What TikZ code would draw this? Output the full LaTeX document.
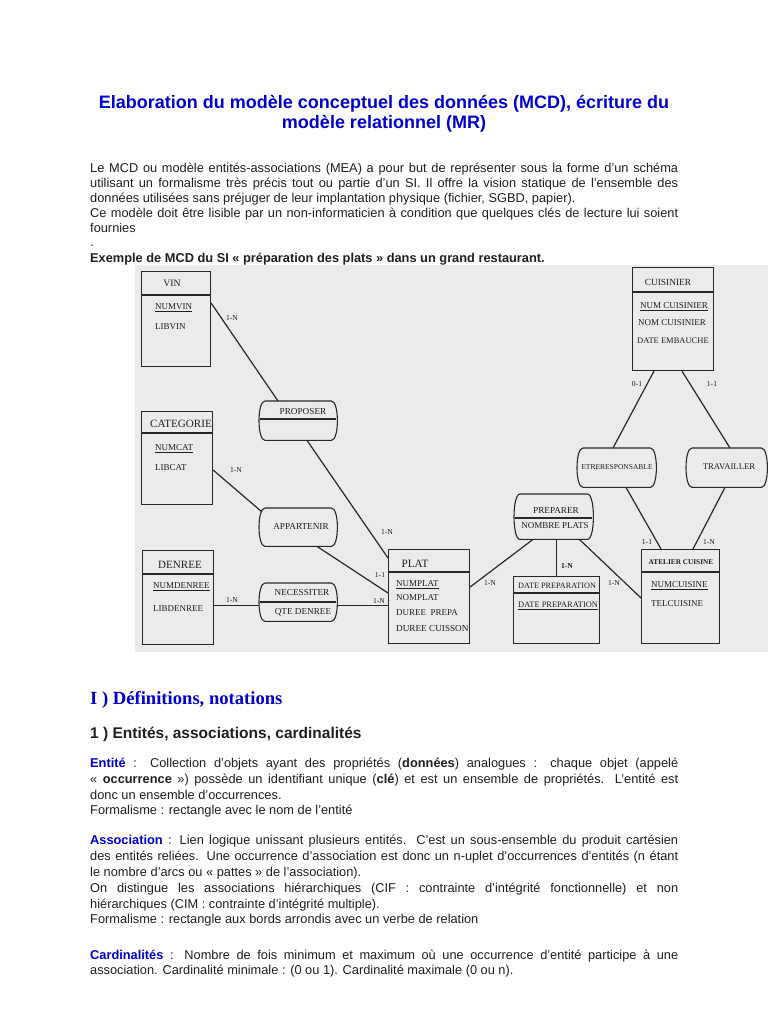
\documentclass[tikz,border=0pt]{standalone}
\usepackage{fontspec}
\setmainfont{Liberation Sans}
\newfontfamily\serifd{Liberation Serif}
\usetikzlibrary{calc}
\definecolor{titleblue}{RGB}{0,0,204}
\definecolor{ink}{RGB}{40,40,40}
\definecolor{inktext}{RGB}{30,30,30}
\definecolor{scan}{RGB}{235,235,235}
\newcommand\jl[1]{\makebox[588pt][s]{#1}}
\newcommand\assocshape[1]{%
 \draw[entline] ([xshift=6pt]#1.north west) -- ([xshift=-6pt]#1.north east)
   .. controls ([xshift=2pt]#1.north east) and ([xshift=2pt]#1.south east) .. ([xshift=-6pt]#1.south east)
   -- ([xshift=6pt]#1.south west)
   .. controls ([xshift=-2pt]#1.south west) and ([xshift=-2pt]#1.north west) .. cycle;}
\begin{document}
\begin{tikzpicture}[x=1pt,y=-1pt,
  body/.style={anchor=base west, inner sep=0pt, font=\fontsize{12.8}{15}\selectfont, text=black!88},
  ttl/.style={anchor=base, inner sep=0pt, font=\fontsize{18}{20}\selectfont\bfseries, text=titleblue},
  entline/.style={draw=ink, line width=1.1pt},
  link/.style={draw=ink, line width=1.2pt},
  ent/.style={entline, anchor=north west, inner sep=0pt},
  assoc/.style={anchor=north west, inner sep=0pt, draw=none},
  ename/.style={inner sep=0pt, text=inktext, font=\serifd\fontsize{11.1}{12}\selectfont},
  attr/.style={inner sep=0pt, anchor=west, text=inktext, font=\serifd\fontsize{9}{10}\selectfont},
  aname/.style={inner sep=0pt, text=inktext, font=\serifd\fontsize{9.2}{10}\selectfont},
  small/.style={inner sep=0pt, text=inktext, font=\serifd\fontsize{8.2}{9}\selectfont},
  lab/.style={inner sep=0pt, text=inktext, font=\serifd\fontsize{7.6}{8}\selectfont}
]
\useasboundingbox (0,0) rectangle (768,1024);
\fill[white] (0,0) rectangle (768,1024);

% ---------- title and introduction ----------
\node[ttl] (t1) at (384,109) {Elaboration du modèle conceptuel des données (MCD), écriture du};
\node[ttl] (t2) at (384,129) {modèle relationnel (MR)};

\node[body] (p1) at (90,173) {\jl{Le MCD ou modèle entités-associations (MEA) a pour but de représenter sous la forme d’un schéma}};
\node[body] (p2) at (90,188) {\jl{utilisant un formalisme très précis tout ou partie d’un SI. Il offre la vision statique de l’ensemble des}};
\node[body] (p3) at (90,203) {données utilisées sans préjuger de leur implantation physique (fichier, SGBD, papier).};
\node[body] (p4) at (90,218) {\jl{Ce modèle doit être lisible par un non-informaticien à condition que quelques clés de lecture lui soient}};
\node[body] (p5) at (90,233) {fournies};
\node[body] (p6) at (90,247) {.};
\node[body] (p7) at (90,262) {\bfseries Exemple de MCD du SI « préparation des plats » dans un grand restaurant.};

% ---------- scanned diagram ----------
\fill[scan] (135,265) rectangle (768,652);

% entities
\node[ent, minimum width=69pt, minimum height=95pt] (vin) at (141,271) {};
\draw[ink, line width=1.7pt] ([yshift=-24pt]vin.north west) -- ([yshift=-24pt]vin.north east);
\node[ename, font=\serifd\fontsize{9.8}{10}\selectfont] (vinn) at (172,283) {VIN};
\node[attr] (vina) at (155,308) {\underline{NUMVIN}};
\node[attr] (vinb) at (155,327) {LIBVIN};

\node[ent, minimum width=71pt, minimum height=93pt] (cat) at (141,411) {};
\draw[entline] ([yshift=-22pt]cat.north west) -- ([yshift=-22pt]cat.north east);
\node[ename] (catn) at (181,424) {CATEGORIE};
\node[attr] (cata) at (155,449) {\underline{NUMCAT}};
\node[attr] (catb) at (155,468) {LIBCAT};

\node[ent, minimum width=71pt, minimum height=94pt] (den) at (142,550) {};
\draw[entline] ([yshift=-24pt]den.north west) -- ([yshift=-24pt]den.north east);
\node[ename] (denn) at (180,565) {DENREE};
\node[attr] (dena) at (153,587) {\underline{NUMDENREE}};
\node[attr] (denb) at (153,609) {LIBDENREE};

\node[ent, minimum width=81pt, minimum height=94pt] (plat) at (388,549) {};
\draw[entline] ([yshift=-23pt]plat.north west) -- ([yshift=-23pt]plat.north east);
\node[ename, font=\serifd\fontsize{11.2}{12}\selectfont] (platn) at (415,564) {PLAT};
\node[attr] (plata) at (396,585) {\underline{NUMPLAT}};
\node[attr] (platb) at (396,598) {NOMPLAT};
\node[attr] (platc) at (396,613) {DUREE\ \ PREPA};
\node[attr, font=\serifd\fontsize{9.2}{10}\selectfont] (platd) at (396,628) {DUREE CUISSON};

\node[ent, minimum width=86pt, minimum height=67pt] (datep) at (513,576) {};
\draw[entline] ([yshift=-17pt]datep.north west) -- ([yshift=-17pt]datep.north east);
\node[small] (datepn) at (557,586) {DATE PREPARATION};
\node[attr, font=\serifd\fontsize{8.4}{9}\selectfont] (datepa) at (518,606) {\underline{DATE PREPARATION}};

\node[ent, minimum width=78pt, minimum height=94pt] (atel) at (641,549) {};
\draw[entline] ([yshift=-23pt]atel.north west) -- ([yshift=-23pt]atel.north east);
\node[small, font=\serifd\bfseries\fontsize{7.3}{8}\selectfont] (ateln) at (681,562) {ATELIER CUISINE};
\node[attr] (atela) at (651,586) {\underline{NUMCUISINE}};
\node[attr] (atelb) at (651,604) {TELCUISINE};

\node[ent, minimum width=81pt, minimum height=103pt] (cuis) at (632,267) {};
\draw[entline] ([yshift=-25pt]cuis.north west) -- ([yshift=-25pt]cuis.north east);
\node[ename, font=\serifd\fontsize{9.4}{10}\selectfont] (cuisn) at (668,282) {CUISINIER};
\node[attr] (cuisa) at (640,307) {\underline{NUM CUISINIER}};
\node[attr] (cuisb) at (638,323) {NOM CUISINIER};
\node[attr, font=\serifd\fontsize{8.5}{9}\selectfont] (cuisc) at (637,341) {DATE EMBAUCHE};

% associations
\node[assoc, minimum width=78pt, minimum height=39pt] (prop) at (259,401) {};
\assocshape{prop}
\draw[entline] ([yshift=-18pt,xshift=1pt]prop.north west) -- ([yshift=-18pt,xshift=-1pt]prop.north east);
\node[aname] (propn) at (303,411) {PROPOSER};

\node[assoc, minimum width=78pt, minimum height=38pt] (app) at (259,508) {};
\assocshape{app}
\node[aname] (appn) at (301,526) {APPARTENIR};

\node[assoc, minimum width=78pt, minimum height=38pt] (nec) at (259,583) {};
\assocshape{nec}
\draw[entline] ([yshift=-19pt,xshift=1pt]nec.north west) -- ([yshift=-19pt,xshift=-1pt]nec.north east);
\node[aname] (necn) at (302,592) {NECESSITER};
\node[aname] (neca) at (303,612) {QTE DENREE};

\node[assoc, minimum width=79pt, minimum height=45pt] (prep) at (514,494) {};
\assocshape{prep}
\draw[entline] ([yshift=-24pt,xshift=1pt]prep.north west) -- ([yshift=-24pt,xshift=-1pt]prep.north east);
\node[aname] (prepn) at (556,510) {PREPARER};
\node[aname, font=\serifd\fontsize{9}{10}\selectfont] (prepa) at (555,526) {NOMBRE PLATS};

\node[assoc, minimum width=79pt, minimum height=39pt] (etre) at (577,448) {};
\assocshape{etre}
\node[small, font=\serifd\fontsize{7.5}{8}\selectfont] (etren) at (617,467) {ETRERESPONSABLE};

\node[assoc, minimum width=81pt, minimum height=39pt] (trav) at (686,448) {};
\assocshape{trav}
\node[aname, font=\serifd\fontsize{8.7}{9}\selectfont] (travn) at (729,467) {TRAVAILLER};

% links
\draw[link] ([yshift=-32pt]vin.north east) -- ([xshift=19pt]prop.north west);
\draw[link] ([xshift=48pt]prop.south west) -- ([yshift=-9pt]plat.north west);
\draw[link] ([yshift=-59pt]cat.north east) -- ([xshift=3pt,yshift=-4pt]app.north west);
\draw[link] ([xshift=58pt]app.south west) -- ([yshift=-44pt]plat.north west);
\draw[link] ([yshift=-3pt]nec.west) -- ([yshift=-3pt]nec.west -| den.east);
\draw[link] ([yshift=-3pt]nec.east) -- ([yshift=-3pt]nec.east -| plat.west);
\draw[link] ([xshift=19pt]prep.south west) -- ([yshift=-38pt]plat.north east);
\draw[link] (datep.north |- prep.south) -- (datep.north);
\draw[link] ([xshift=-14pt]prep.south east) -- ([yshift=-49pt]atel.north west);
\draw[link] ([xshift=22pt]cuis.south west) -- ([xshift=36pt]etre.north west);
\draw[link] ([xshift=49pt]etre.south west) -- ([xshift=20pt]atel.north west);
\draw[link] ([xshift=50pt]cuis.south west) -- ([xshift=44pt]trav.north west);
\draw[link] ([xshift=39pt]trav.south west) -- ([xshift=52pt]atel.north west);

% cardinalities
\node[lab] (c1) at (232,318) {1-N};
\node[lab] (c2) at (387,532) {1-N};
\node[lab] (c3) at (236,470) {1-N};
\node[lab] (c4) at (380,575) {1-1};
\node[lab] (c5) at (232,600) {1-N};
\node[lab] (c6) at (379,601) {1-N};
\node[lab] (c7) at (490,583) {1-N};
\node[lab, font=\serifd\bfseries\fontsize{7.6}{8}\selectfont] (c8) at (567,566) {1-N};
\node[lab] (c9) at (614,583) {1-N};
\node[lab] (c10) at (637,384) {0-1};
\node[lab] (c11) at (712,384) {1-1};
\node[lab] (c12) at (647,542) {1-1};
\node[lab] (c13) at (709,542) {1-N};

% ---------- definitions ----------
\node[anchor=base west, inner sep=0pt, text=titleblue, font=\serifd\bfseries\fontsize{18.6}{22}\selectfont] (h1) at (90,704) {I ) Définitions, notations};
\node[anchor=base west, inner sep=0pt, text=black!88, font=\bfseries\fontsize{15.5}{18}\selectfont] (h2) at (90,738) {1 ) Entités, associations, cardinalités};

\node[body] (e1) at (90,767) {\jl{\textcolor{titleblue}{\bfseries Entité} : Collection d’objets ayant des propriétés (\textbf{données}) analogues : chaque objet (appelé}};
\node[body] (e2) at (90,783) {\jl{«~\textbf{occurrence}~») possède un identifiant unique (\textbf{clé}) et est un ensemble de propriétés. L’entité est}};
\node[body] (e3) at (90,799) {donc un ensemble d’occurrences.};
\node[body] (e4) at (90,814) {Formalisme : rectangle avec le nom de l’entité};

\node[body] (a1) at (90,844) {\jl{\textcolor{titleblue}{\bfseries Association} : Lien logique unissant plusieurs entités. C’est un sous-ensemble du produit cartésien}};
\node[body] (a2) at (90,860) {\jl{des entités reliées. Une occurrence d’association est donc un n-uplet d’occurrences d’entités (n étant}};
\node[body] (a3) at (90,876) {le nombre d’arcs ou « pattes » de l’association).};
\node[body] (a4) at (90,892) {\jl{On distingue les associations hiérarchiques (CIF : contrainte d’intégrité fonctionnelle) et non}};
\node[body] (a5) at (90,908) {hiérarchiques (CIM : contrainte d’intégrité multiple).};
\node[body] (a6) at (90,923) {Formalisme : rectangle aux bords arrondis avec un verbe de relation};

\node[body] (k1) at (90,959) {\jl{\textcolor{titleblue}{\bfseries Cardinalités} : Nombre de fois minimum et maximum où une occurrence d’entité participe à une}};
\node[body] (k2) at (90,974) {association. Cardinalité minimale : (0 ou 1). Cardinalité maximale (0 ou n).};
\end{tikzpicture}
\end{document}
